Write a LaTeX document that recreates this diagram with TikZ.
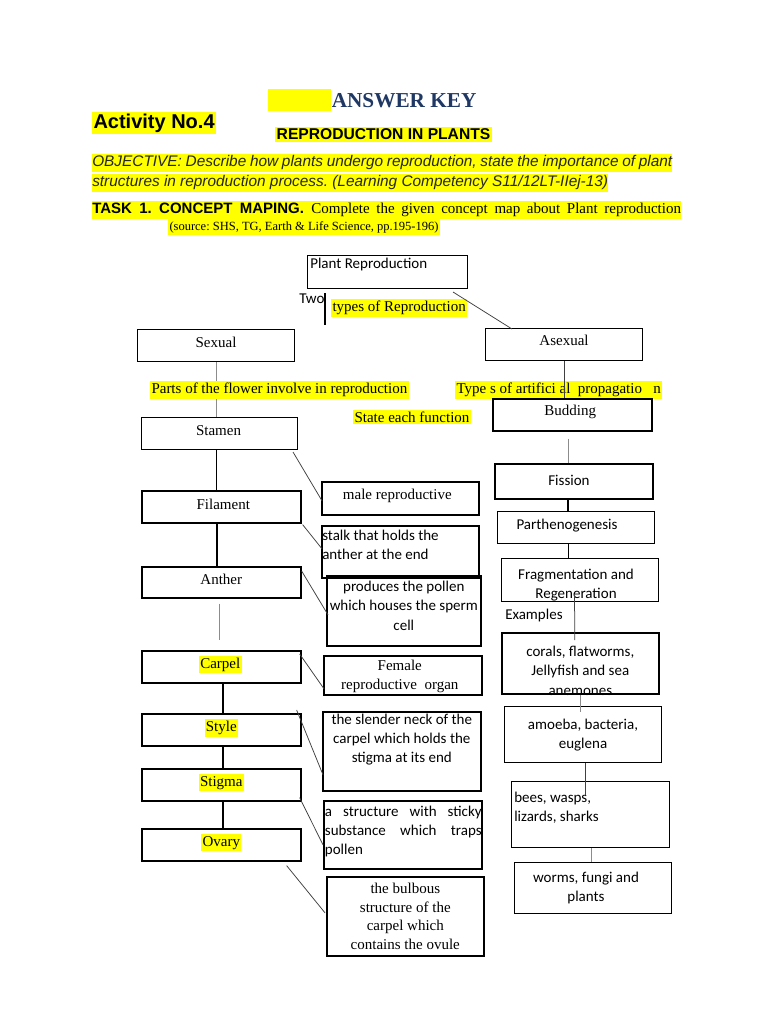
\documentclass[tikz,border=0pt]{standalone}
\usepackage{fontspec}
\setmainfont{Liberation Serif}
\newfontfamily\arial{Liberation Sans}
\newfontfamily\calib{Carlito}
\usetikzlibrary{calc}
\definecolor{hl}{HTML}{FFFF00}
\definecolor{navy}{HTML}{1F3864}
\frenchspacing
\begin{document}
\begin{tikzpicture}[x=0.8pt,y=-0.8pt,
 box/.style={draw,anchor=north west,inner sep=0pt,line width=0.8pt},
 tbox/.style={box,line width=1.3pt},
 tnr/.style={font=\fontsize{12}{15}\selectfont, inner sep=0pt, align=center},
 cal/.style={font=\calib\fontsize{12}{15.3}\selectfont, inner sep=0pt, align=center},
 hil/.style={fill=hl, inner xsep=1pt, inner ysep=1.5pt},
 conn/.style={line width=0.6pt, draw=black!75},
 thinconn/.style={line width=0.5pt, draw=black!45},
 thickconn/.style={line width=2pt},
]
\useasboundingbox[fill=white] (0,0) rectangle (768,1024);

% ---------- header ----------
\node[fill=hl, anchor=north west, minimum width=63*0.8pt, minimum height=22*0.8pt, inner sep=0pt] (hlblock) at (268,89) {};
\node[anchor=west, inner sep=0pt, text=navy, font=\fontsize{17}{20}\selectfont\bfseries] (answer) at (hlblock.east) {ANSWER KEY};
\node[hil, anchor=west, font=\arial\bfseries\fontsize{16}{19}\selectfont] (activity) at (92,123) {Activity No.4};
\node[hil, font=\arial\bfseries\fontsize{12.5}{15}\selectfont] (title) at (383.5,134.5) {REPRODUCTION IN PLANTS};
\node[hil, anchor=west, inner xsep=0pt, text=black!85, font=\arial\itshape\fontsize{12.3}{15}\selectfont] (obj1) at (92,163) {\makebox[464pt][s]{OBJECTIVE: Describe how plants undergo reproduction, state the importance of plant}};
\node[hil, anchor=west, inner xsep=0pt, text=black!85, font=\arial\itshape\fontsize{12.3}{15}\selectfont] (obj2) at (92,183) {structures in reproduction process. (Learning Competency S11/12LT-IIej-13)};
\node[hil, anchor=west, inner xsep=0pt] (task) at (92,210) {\makebox[471pt][s]{\arial\bfseries\fontsize{12}{15}\selectfont TASK 1. CONCEPT MAPING. \rmfamily\mdseries Complete the given concept map about Plant reproduction}};
\node[hil, anchor=west, font=\fontsize{10}{12}\selectfont] (source) at (168,227) {(source: SHS, TG, Earth \& Life Science, pp.195-196)};

% ---------- top of map ----------
\node[box, minimum width=160*0.8pt, minimum height=33*0.8pt] (plant) at (307,255) {};
\node[cal, anchor=north west] (plant-t) at ($(plant.north west)+(3,3)$) {Plant Reproduction};
\node[cal, anchor=west] (two) at (299,299) {Two};
\coordinate (twotop) at ($(plant.south west)+(18,4)$);
\coordinate (twobot) at ($(plant.south west)+(18,36)$);
\draw[line width=0.9pt] (twotop) -- (twobot);
\node[tnr, hil, anchor=west] (types) at (331,308) {types of Reproduction};

\node[box, minimum width=157*0.8pt, minimum height=32*0.8pt] (sexual) at (137,329) {};
\node[tnr] (sexual-t) at ($(sexual.center)+(0,-3)$) {Sexual};
\node[box, minimum width=157*0.8pt, minimum height=32*0.8pt] (asexual) at (485,328) {};
\node[tnr] (asexual-t) at ($(asexual.center)+(0,-4)$) {Asexual};
\draw[conn] ($(plant.south east)+(-15,3)$) -- ($(asexual.north west)+(27,1)$);

\node[tnr, hil, anchor=west] (parts) at (150,390) {Parts of the flower involve in reproduction};
\node[tnr, hil, anchor=west] (typesart) at (455,390) {Type s of artifici al\ \ propagatio\ \ \ n};
\node[tnr, hil, anchor=west] (state) at (353,417) {State each function};

% ---------- left column ----------
\node[box, minimum width=156*0.8pt, minimum height=32*0.8pt] (stamen) at (141,417) {};
\node[tnr] (stamen-t) at ($(stamen.center)+(-1,-3)$) {Stamen};
\node[tbox, minimum width=159*0.8pt, minimum height=32*0.8pt] (filament) at (141,490) {};
\node[tnr] (filament-t) at ($(filament.center)+(2,-2)$) {Filament};
\node[tbox, minimum width=159*0.8pt, minimum height=31*0.8pt] (anther) at (141,566) {};
\node[tnr] (anther-t) at ($(anther.center)+(0,-3)$) {Anther};
\node[tbox, minimum width=159*0.8pt, minimum height=32*0.8pt] (carpel) at (141,650) {};
\node[tnr, hil] (carpel-t) at ($(carpel.center)+(-1,-2)$) {Carpel};
\node[tbox, minimum width=159*0.8pt, minimum height=32*0.8pt] (style) at (141,713) {};
\node[tnr, hil] (style-t) at ($(style.center)+(0,-2)$) {Style};
\node[tbox, minimum width=159*0.8pt, minimum height=32*0.8pt] (stigma) at (141,768) {};
\node[tnr, hil] (stigma-t) at ($(stigma.center)+(0,-2)$) {Stigma};
\node[tbox, minimum width=159*0.8pt, minimum height=32*0.8pt] (ovary) at (141,828) {};
\node[tnr, hil] (ovary-t) at ($(ovary.center)+(0,-2)$) {Ovary};

\draw[thinconn] (sexual.south) -- (sexual.south |- parts.north);
\draw[thinconn] (sexual.south |- parts.south) -- (sexual.south |- stamen.north);
\coordinate (sf) at ($(stamen.south)+(-3,0)$);
\draw[line width=1pt] (sf) -- (sf |- filament.north);
\coordinate (fa) at ($(filament.south)+(-4.5,0)$);
\draw[thickconn] (fa) -- (fa |- anther.north);
\coordinate (ac1) at ($(anther.south)+(-2.5,5)$);
\coordinate (ac2) at ($(carpel.north)+(-2.5,-10)$);
\draw[thinconn] (ac1) -- (ac2);
\coordinate (cs) at ($(carpel.south)+(1.5,0)$);
\draw[thickconn] (cs) -- (cs |- style.north);
\coordinate (ss) at ($(style.south)+(1.5,0)$);
\draw[thickconn] (ss) -- (ss |- stigma.north);
\coordinate (so) at ($(stigma.south)+(1.5,0)$);
\draw[thickconn] (so) -- (so |- ovary.north);

% ---------- function boxes ----------
\node[tbox, minimum width=157*0.8pt, minimum height=33*0.8pt] (male) at (321,481) {};
\node[tnr] (male-t) at ($(male.center)+(-3,-2)$) {male reproductive};
\node[tbox, minimum width=157*0.8pt, minimum height=52*0.8pt] (stalk) at (321,525) {};
\node[cal, align=left, anchor=north west] (stalk-t) at ($(stalk.north west)+(1,5)$) {stalk that holds the\\anther at the end};
\node[tbox, minimum width=154*0.8pt, minimum height=70*0.8pt] (pollen) at (326,575) {};
\node[cal] (pollen-t) at ($(pollen.center)+(0,-5)$) {produces the pollen\\which houses the sperm\\cell};
\node[tbox, minimum width=158*0.8pt, minimum height=39*0.8pt] (female) at (323,655) {};
\node[tnr] (female-t) at ($(female.center)+(-3,1)$) {Female\\reproductive\ \ organ};
\node[tbox, minimum width=158*0.8pt, minimum height=79*0.8pt] (slender) at (322,711) {};
\node[cal] (slender-t) at ($(slender.center)+(0,-12)$) {the slender neck of the\\carpel which holds the\\stigma at its end};
\node[tbox, minimum width=158*0.8pt, minimum height=68*0.8pt] (sticky) at (323,800) {};
\node[cal, align=justify, text width=125.4pt] (sticky-t) at ($(sticky.center)+(0.5,-3)$) {a structure with sticky substance which traps pollen};
\node[tbox, minimum width=157*0.8pt, minimum height=79*0.8pt] (bulbous) at (326,876) {};
\node[tnr, font=\fontsize{12}{14.8}\selectfont] (bulbous-t) at ($(bulbous.center)+(0,0)$) {the bulbous\\structure of the\\carpel which\\contains the ovule};

\draw[conn] ($(stamen.south east)+(-5,2)$) -- ($(male.west)+(1,2.5)$);
\draw[conn] ($(filament.south east)+(1,1)$) -- ($(stalk.west)+(1,-3)$);
\draw[conn] ($(anther.north east)+(0,5)$) -- ($(pollen.west)+(2,4)$);
\draw[conn] ($(carpel.north east)+(-2,4)$) -- ($(female.west)+(1,13.5)$);
\draw[conn] ($(style.north east)+(-5,-3)$) -- ($(slender.west)+(1,23.5)$);
\draw[conn] ($(stigma.south east)+(-2,-4)$) -- ($(sticky.west)+(0,10)$);
\draw[conn] ($(ovary.south east)+(-15,4)$) -- ($(bulbous.west)+(-1,-3.5)$);

% ---------- right column ----------
\node[tbox, minimum width=159*0.8pt, minimum height=32*0.8pt] (budding) at (492,398) {};
\node[tnr] (budding-t) at ($(budding.center)+(-2,-3)$) {Budding};
\draw[conn] (asexual.south) -- (asexual.south |- budding.north);
\node[box, line width=1.6pt, minimum width=158*0.8pt, minimum height=35*0.8pt] (fission) at (494,463) {};
\node[cal] (fission-t) at ($(fission.center)+(-5,-1)$) {Fission};
\node[box, minimum width=157*0.8pt, minimum height=32*0.8pt] (parth) at (497,511) {};
\node[cal] (parth-t) at ($(parth.center)+(-9,-2)$) {Parthenogenesis};
\node[box, minimum width=157*0.8pt, minimum height=43*0.8pt] (frag) at (501,558) {};
\node[cal] (frag-t) at ($(frag.center)+(-4,5)$) {Fragmentation and\\Regeneration};
\node[cal, anchor=west] (examples) at (505,615) {Examples};
\node[tbox, minimum width=157*0.8pt, minimum height=61*0.8pt] (corals) at (501,632) {};
\node[cal] (corals-t) at ($(corals.center)+(0,7.5)$) {corals, flatworms,\\Jellyfish and sea\\anemones};
\node[box, minimum width=157*0.8pt, minimum height=56*0.8pt] (amoeba) at (504,706) {};
\node[cal] (amoeba-t) at ($(amoeba.center)+(0,0.5)$) {amoeba, bacteria,\\euglena};
\node[box, minimum width=158*0.8pt, minimum height=66*0.8pt] (bees) at (511,781) {};
\node[cal, align=left, anchor=west] (bees-t) at ($(bees.west)+(3,-7)$) {bees, wasps,\\lizards, sharks};
\node[box, minimum width=157*0.8pt, minimum height=51*0.8pt] (worms) at (514,862) {};
\node[cal] (worms-t) at ($(worms.center)+(-7,0)$) {worms, fungi and\\plants};

\coordinate (bf) at ($(budding.south)+(-4.5,7)$);
\draw[thinconn] (bf) -- (bf |- fission.north);
\coordinate (fp) at ($(fission.south)+(-6,0)$);
\draw[line width=1.4pt] (fp) -- (fp |- parth.north);
\coordinate (pf) at ($(parth.south)+(-7.5,0)$);
\draw[line width=1.4pt] (pf) -- (pf |- frag.north);
\coordinate (fc1) at ($(frag.south)+(-5.5,-8)$);
\coordinate (fc2) at ($(corals.north)+(-5.5,8)$);
\draw[conn] (fc1) -- (fc2);
\coordinate (ca) at ($(amoeba.north)+(-2.5,6)$);
\draw[thinconn] (corals.south) -- (corals.south |- ca);
\coordinate (ab) at ($(amoeba.south)+(2.5,0)$);
\coordinate (ab2) at ($(bees.north)+(-5,14)$);
\draw[conn] (ab) -- (ab |- ab2);
\coordinate (bw) at ($(bees.south)+(1,0)$);
\draw[thinconn] (bw) -- (bw |- worms.north);
\end{tikzpicture}
\end{document}
